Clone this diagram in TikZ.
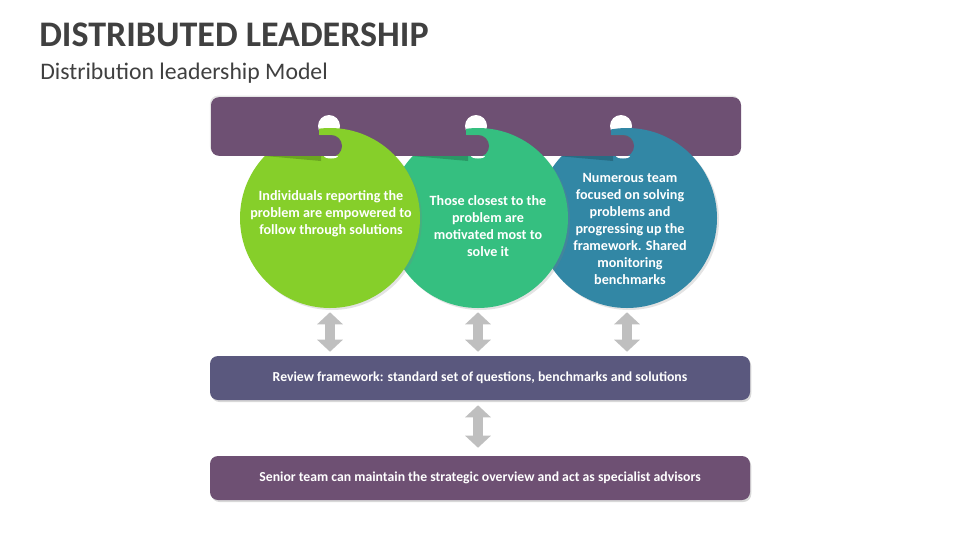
\documentclass[tikz,border=0pt]{standalone}
\usepackage{fontspec}
\setmainfont{Carlito}
\usetikzlibrary{arrows.meta,shadows,calc}
\definecolor{barpurple}{RGB}{110,80,115}
\definecolor{revblue}{RGB}{90,88,126}
\definecolor{cgreen}{RGB}{134,207,42}
\definecolor{cteal}{RGB}{53,191,128}
\definecolor{cblue}{RGB}{50,135,165}
\definecolor{titlegray}{RGB}{64,64,64}
\definecolor{arrowgray}{RGB}{191,191,191}
\begin{document}
\begin{tikzpicture}[x=0.75pt,y=-0.75pt,
  disc/.style={circle, minimum size=135pt, inner sep=0pt, fill=#1,
    drop shadow={opacity=0.22, shadow xshift=1.5pt, shadow yshift=-1.5pt}},
  ctext/.style={text=white, font=\fontsize{10.6}{12.75}\selectfont\bfseries, align=center, inner sep=0pt},
  box/.style={rounded corners=6pt, fill=#1, minimum width=405pt, minimum height=33pt,
    text=white, font=\fontsize{10.3}{12}\selectfont\bfseries,
    drop shadow={opacity=0.3, shadow xshift=1pt, shadow yshift=-1.5pt}},
  topbar/.style={rounded corners=6pt, fill=barpurple, minimum width=397.5pt, minimum height=44pt,
    drop shadow={opacity=0.2, shadow xshift=-0.8pt, shadow yshift=1.2pt}},
  dblarrow/.style={draw=arrowgray, line width=7.5pt, <->, >={Triangle[length=9pt,width=18.75pt]}},
  hole/.style={fill=white},
]
\useasboundingbox (0,0) rectangle (960,540);
\fill[white] (0,0) rectangle (960,540);

% title
\node[anchor=base west, inner sep=0pt, text=titlegray, font=\fontsize{27}{30}\selectfont\bfseries] (title) at (39,46.5) {DISTRIBUTED LEADERSHIP};
\node[anchor=base west, inner sep=0pt, text=titlegray, font=\fontsize{17.8}{20}\selectfont] (sub) at (40,79) {Distribution leadership Model};

% circles (back to front)
\node[disc=cblue]  (c3) at (627,218) {};
\node[disc=cteal]  (c2) at (478,218) {};
\node[disc=cgreen] (c1) at (330,218) {};

% shadow wedges under the bar
\foreach \c/\hx in {c3/621, c2/476, c1/329}{
  \begin{scope}
    \clip (\c.center) circle[radius=90];
    \fill[black, opacity=0.2] (\hx-8,155) -- (\hx-8,161) -- (\hx-75,155) -- cycle;
  \end{scope}
  \fill[white] (\hx+2,156) ellipse[x radius=7, y radius=2.5];
}

% top bar
\node[topbar] (bar) at (476,126.5) {};

% holes and hooked tags
\foreach \c/\hx/\col in {c3/621/cblue, c2/476/cteal, c1/329/cgreen}{
  \fill[hole] (\hx,126) circle[radius=11];
  \begin{scope}
    \clip (\hx-10,80) rectangle (800,155.5);
    \fill[\col] (\c.center) circle[radius=90];
  \end{scope}
  \begin{scope}
    \clip (\hx-10,80) rectangle (\hx+30,155.5);
    \fill[barpurple] (\hx-12,135) -- (\hx+2,135) arc[start angle=-90, end angle=90, radius=11] -- (\hx-12,157) -- cycle;
    \draw[black!60, opacity=0.45, line width=0.8pt] (\hx-9,135.6) -- (\hx+2,135.6) arc[start angle=-90, end angle=-20, radius=10.4];
  \end{scope}
}

% circle texts
\node[ctext] (t1) at (331,214) {Individuals reporting the\\problem are empowered to\\follow through solutions};
\node[ctext] (t2) at (488,226.5) {Those closest to the\\problem are\\motivated most to\\solve it};
\node[ctext] (t3) at (630,229) {Numerous team\\focused on solving\\problems and\\progressing up the\\framework. Shared\\monitoring\\benchmarks};

% boxes
\node[box=revblue] (rev) at (480,378) {Review framework: standard set of questions, benchmarks and solutions};
\node[box=barpurple] (sen) at (480,478) {Senior team can maintain the strategic overview and act as specialist advisors};

% arrows
\draw[dblarrow, shorten <=3pt, shorten >=3pt] (c1.south) -- (c1.south |- rev.north);
\draw[dblarrow, shorten <=3pt, shorten >=3pt] (c2.south) -- (c2.south |- rev.north);
\draw[dblarrow, shorten <=3pt, shorten >=3pt] (c3.south) -- (c3.south |- rev.north);
\draw[dblarrow, shorten <=3.75pt, shorten >=6pt] (rev.south -| c2) -- (sen.north -| c2);
\end{tikzpicture}
\end{document}
